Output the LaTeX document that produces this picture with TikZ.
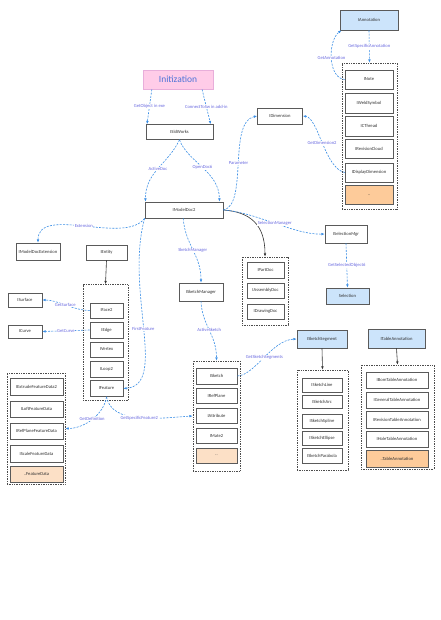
\documentclass[tikz,border=0pt]{standalone}
\usepackage{fontspec}
\setmainfont{Carlito}
\usetikzlibrary{calc,arrows.meta}
\definecolor{conn}{HTML}{3A8EE6}
\definecolor{lblc}{HTML}{6A6AE0}
\definecolor{bord}{HTML}{5A5A5A}
\definecolor{bluef}{HTML}{CCE4FB}
\definecolor{orf}{HTML}{FDCB9A}
\definecolor{orl}{HTML}{FCE0C6}
\definecolor{pinkf}{HTML}{FFCCE8}
\definecolor{pinkd}{HTML}{E8AEDA}
\definecolor{initt}{HTML}{4F74D8}
\tikzset{
 wh/.style 2 args={minimum width=#1pt, minimum height=#2pt},
 bx/.style={draw=bord, fill=white, line width=0.7pt, inner sep=0pt, font=\fontsize{4.6}{5}\selectfont, text=black!80},
 bluebx/.style={bx, fill=bluef},
 orbx/.style={bx, fill=orf},
 orlbx/.style={bx, fill=orl},
 grp/.style={draw=black!70, densely dotted, line width=0.7pt, inner sep=0pt},
 cn/.style={draw=conn, line width=0.6pt, dash pattern=on 2pt off 1.3pt, -{Latex[length=3.2pt,width=2.6pt]}},
 sol/.style={draw=black!80, line width=0.6pt, -{Latex[length=3.2pt,width=2.6pt]}},
 lbl/.style={font=\fontsize{4.6}{5}\selectfont, text=lblc, fill=white, inner sep=0.6pt},
}
\begin{document}
\begin{tikzpicture}[x=1pt,y=-1pt]
\useasboundingbox (0,0) rectangle (440,620);
\fill[white] (0,0) rectangle (440,620);

% groups
\node[grp, wh={55}{146}] (annogrp) at (369.5,136) {};
\node[grp, wh={45}{116}] (facegrp) at (105.5,342.5) {};
\node[grp, wh={46}{68}] (docgrp) at (265,291) {};
\node[grp, wh={47}{110}] (sketchgrp) at (216.5,416) {};
\node[grp, wh={51}{100}] (sksgrp) at (322.5,420) {};
\node[grp, wh={73}{104}] (tablegrp) at (397.5,417) {};
\node[grp, wh={58}{111}] (featgrp) at (36,428.5) {};

% top
\node[draw=pinkd, fill=pinkf, line width=0.7pt, wh={70}{19}, font=\fontsize{9.5}{10}\selectfont, text=initt] (init) at (178,79.5) {Initization};
\node[bx, wh={67}{15}] (sldworks) at (179.5,132) {ISldWorks};
\node[bx, wh={45}{16}] (dimension) at (280,116) {IDimension};
\node[bluebx, wh={58}{20}] (annotation) at (369,20) {IAnnotation};
\node[bx, wh={48}{19}] (note) at (369,79.5) {INote};
\node[bx, wh={48}{20}] (weld) at (369,103) {IWeldSymbol};
\node[bx, wh={48}{20}] (cthread) at (369,126) {ICThread};
\node[bx, wh={48}{19}] (revcloud) at (369,149) {IRevisionCloud};
\node[bx, wh={48}{19}] (dispdim) at (369,172.5) {IDisplayDimension};
\node[orbx, wh={48}{19}] (anndots) at (369,195) {..};

% middle
\node[bx, wh={78}{16}] (modeldoc) at (184,210) {IModelDoc2};
\node[bx, wh={44}{17}] (modeldocext) at (38,251.5) {IModelDocExtension};
\node[bx, wh={41}{15}] (entity) at (106.5,252.5) {IEntity};
\node[bx, wh={33}{15}] (face2) at (106.5,310.5) {IFace2};
\node[bx, wh={33}{16}] (edge) at (106.5,330) {IEdge};
\node[bx, wh={33}{15}] (vertex) at (106.5,349.5) {IVertex};
\node[bx, wh={33}{16}] (loop2) at (106.5,369) {ILoop2};
\node[bx, wh={33}{16}] (feature) at (106.5,388.5) {IFeature};
\node[bx, wh={34}{14}] (surface) at (25,300) {ISurface};
\node[bx, wh={34}{13}] (curve) at (25,331.5) {ICurve};
\node[bx, wh={44}{18}] (sketchmgr) at (201,292) {ISketchManager};
\node[bx, wh={37}{16}] (partdoc) at (265.5,270) {IPartDoc};
\node[bx, wh={37}{15}] (assemdoc) at (265.5,290.5) {IAssemblyDoc};
\node[bx, wh={37}{15}] (drawdoc) at (265.5,311.5) {IDrawingDoc};
\node[bx, wh={42}{18}] (selmgr) at (346,234) {ISelectionMgr};
\node[bluebx, wh={43}{16}] (selection) at (347.5,296) {Selection};

% sketch
\node[bx, wh={41}{16}] (sketch) at (216.5,376) {ISketch};
\node[bx, wh={41}{15}] (refplane) at (216.5,396) {IRefPlane};
\node[bx, wh={41}{15}] (attribute) at (216.5,416) {IAttribute};
\node[bx, wh={41}{15}] (mate2) at (216.5,436) {IMate2};
\node[orlbx, wh={41}{15}] (skdots) at (216.5,455.5) {..};

\node[bluebx, wh={50}{18}] (sksegment) at (322,339) {ISketchSegment};
\node[bx, wh={40}{14}] (skline) at (322,385) {ISketchLine};
\node[bx, wh={40}{13}] (skarc) at (322,401.5) {ISketchArc};
\node[bx, wh={40}{14}] (skspline) at (322,421) {ISketchSpline};
\node[bx, wh={40}{14}] (skellipse) at (322,438) {ISketchEllipse};
\node[bx, wh={40}{15}] (skparabola) at (322,455.5) {ISketchParabola};

\node[bluebx, wh={57}{19}] (tableannot) at (396.5,338.5) {ITableAnnotation};
\node[bx, wh={62}{16}] (bom) at (397,380) {IBomTableAnnotation};
\node[bx, wh={62}{16}] (general) at (397,400) {IGeneralTableAnnotation};
\node[bx, wh={62}{17}] (revtable) at (397,419.5) {IRevisionTableAnnotation};
\node[bx, wh={62}{16}] (hole) at (397,439) {IHoleTableAnnotation};
\node[orbx, wh={62}{17}] (tdots) at (397,458.5) {..TableAnnotation};

\node[bx, wh={53}{17}] (extrude) at (36.5,386.5) {IExtrudeFeatureData2};
\node[bx, wh={53}{16}] (loft) at (36.5,409) {ILoftFeatureData};
\node[bx, wh={53}{16}] (refplanefd) at (36.5,431) {IRefPlaneFeatureData};
\node[bx, wh={53}{17}] (scalefd) at (36.5,453.5) {IScaleFeatureData};
\node[orlbx, wh={53}{16}] (fdots) at (36.5,474) {..FeatureData};

% connectors
\draw[cn] ($(init.south west)!0.13!(init.south east)$) -- node[lbl]{GetObject in exe} ($(sldworks.north west)!0.02!(sldworks.north east)$);
\draw[cn] ($(init.south west)!0.84!(init.south east)$) -- node[lbl]{ConnectToSw in add-in} ($(sldworks.north west)!0.96!(sldworks.north east)$);
\draw[cn] (sldworks.south) .. controls +(-12,25) and +(0,-30) .. node[lbl]{ActiveDoc} ($(modeldoc.north west)!0.01!(modeldoc.north east)$);
\draw[cn] (sldworks.south) .. controls +(8,22) and +(0,-30) .. node[lbl]{OpenDoc6} ($(modeldoc.north west)!0.95!(modeldoc.north east)$);
\draw[cn] (modeldoc.east) .. controls +(25,-5) and +(-29.5,6) .. node[lbl]{Parameter} (dimension.west);
\draw[cn] (dispdim.west) .. controls +(-20,-4.5) and +(15.5,2) .. node[lbl]{GetDimension2} (dimension.east);
\draw[cn] (note.west) .. controls +(-17,-1.5) and +(-13.7,10) .. node[lbl]{GetAnnotation} ($(annotation.south west)!0.03!(annotation.south east)$);
\draw[cn] (annotation.south) -- node[lbl]{GetSpecificAnnotation} (annogrp.north);
\draw[cn] (modeldoc.south west) .. controls +(-20,27) and +(0,-38) .. node[lbl]{Extension} (modeldocext.north);
\draw[cn] (modeldoc.south west) .. controls +(-20,72) and +(45,-3.5) .. node[lbl]{FirstFeature} (feature.east);
\draw[cn] ($(modeldoc.south west)!0.49!(modeldoc.south east)$) .. controls +(2,27) and +(0,-28) .. node[lbl]{SketchManager} (sketchmgr.north);
\draw[cn] (sketchmgr.south) .. controls +(1,24) and +(0,-26) .. node[lbl]{ActiveSketch} (sketchgrp.north);
\draw[cn] (sketch.east) .. controls +(18,-1) and +(-25,1) .. node[lbl]{GetSketchSegments} (sksegment.west);
\draw[sol] (modeldoc.east) .. controls +(27,2) and +(0,-32) .. (docgrp.north);
\draw[cn] (modeldoc.east) .. controls +(32,2) and +(-30,1) .. node[lbl]{SelectionManager} (selmgr.west);
\draw[cn] (selmgr.south) -- node[lbl]{GetSelectedObject6} (selection.north);
\draw[cn] (face2.west) .. controls +(-18,-0.5) and +(16,0) .. node[lbl]{GetSurface} (surface.east);
\draw[cn] (edge.west) -- node[lbl]{GetCurve} (curve.east);
\draw[cn] (feature.south) .. controls +(-2.5,17.5) and +(19,0) .. node[lbl]{GetDefinition} (featgrp.east);
\draw[cn] (feature.south) .. controls +(5.5,28.5) and +(-33,2) .. node[lbl]{GetSpecificFeature2} (sketchgrp.west);
\draw[sol] (entity.south) -- (facegrp.north);
\draw[sol] (sksegment.south) -- (sksgrp.north);
\draw[sol] (tableannot.south) -- (tablegrp.north);
\end{tikzpicture}
\end{document}
